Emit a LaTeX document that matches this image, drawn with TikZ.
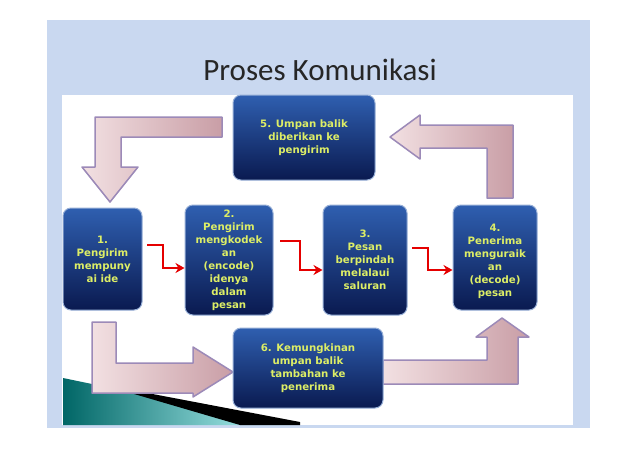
\documentclass[tikz,border=0pt]{standalone}
\usepackage{fontspec}
\setmainfont{DejaVu Sans}
\newfontfamily\titlefont{Carlito}
\usetikzlibrary{arrows.meta}
\definecolor{slidebg}{HTML}{C9D8F0}
\definecolor{boxtop}{HTML}{2F5FB0}
\definecolor{boxbot}{HTML}{0A1A50}
\definecolor{txt}{HTML}{DDEE66}
\definecolor{pinkA}{HTML}{F2E0E2}
\definecolor{pinkB}{HTML}{C99EA6}
\definecolor{pinkedge}{HTML}{9C8AB8}
\tikzset{
 stepbox/.style={draw=boxtop!50!white, line width=1pt, rounded corners=8pt, top color=boxtop, bottom color=boxbot, minimum width=#1},
 boxtext/.style={text=txt, font=\bfseries\fontsize{10.2}{13}\selectfont, align=center},
 blockarrow/.style={draw=pinkedge, line width=1.5pt, left color=pinkA, right color=pinkB, line join=round},
 redarrow/.style={draw=red!90!black, line width=2.5pt, -{Stealth[length=9pt,width=10pt]}}
}
\begin{document}
\begin{tikzpicture}[x=1pt,y=-1pt]
\useasboundingbox (0,0) rectangle (638,451);
\fill[white] (0,0) rectangle (638,451);
\fill[slidebg] (47,20) rectangle (590,428);
\fill[white] (62,95) rectangle (573,425);
\node[font=\titlefont\fontsize{31}{34}\selectfont, text=black!85] (title) at (320,70) {Proses Komunikasi};
% decoration bottom-left
\shade[left color=teal!80!black, right color=cyan!25!white] (63,378) -- (290,425) -- (63,425) -- cycle;
\fill[black] (100,384) -- (300,422) -- (300,425) -- (240,425) -- cycle;
% block arrows
\path[blockarrow] (222,117) -- (95,117) -- (95,167) -- (82,167) -- (110,202) -- (138,167) -- (121,167) -- (121,137) -- (222,137) -- cycle;
\path[blockarrow] (513,198) -- (513,125) -- (420,125) -- (420,115) -- (390,137) -- (420,159) -- (420,148) -- (487,148) -- (487,198) -- cycle;
\path[blockarrow] (92,322) -- (92,393) -- (193,393) -- (193,397) -- (233,372) -- (193,347) -- (193,363) -- (116,363) -- (116,322) -- cycle;
\path[blockarrow] (383,360) -- (487,360) -- (487,337) -- (476,337) -- (502,318) -- (529,337) -- (518,337) -- (518,384) -- (383,384) -- cycle;
% boxes
\node[stepbox=142pt, minimum height=85pt] (b5) at (304,137.5) {};
\node[boxtext] at (b5.center) {5. Umpan balik\\diberikan ke\\pengirim};
\node[stepbox=79pt, minimum height=102pt] (b1) at (102.5,259) {};
\node[boxtext] at (b1.center) {1.\\Pengirim\\mempuny\\ai ide};
\node[stepbox=88pt, minimum height=110pt] (b2) at (229,260) {};
\node[boxtext] at (b2.center) {2.\\Pengirim\\mengkodek\\an\\(encode)\\idenya\\dalam\\pesan};
\node[stepbox=84pt, minimum height=110pt] (b3) at (365,260) {};
\node[boxtext] at (b3.center) {3.\\Pesan\\berpindah\\melalaui\\saluran};
\node[stepbox=84pt, minimum height=105pt] (b4) at (495,257.5) {};
\node[boxtext] at ([yshift=-4pt]b4.center) {4.\\Penerima\\menguraik\\an\\(decode)\\pesan};
\node[stepbox=150pt, minimum height=80pt] (b6) at (308,368) {};
\node[boxtext] at (b6.center) {6. Kemungkinan\\umpan balik\\tambahan ke\\penerima};
% red arrows
\coordinate (r1a) at (147,245); \coordinate (r1b) at (163,245); \coordinate (r1c) at (163,268);
\draw[redarrow] (r1a) -- (r1b) -- (r1c) -- (b2.west |- r1c);
\coordinate (r2a) at (280,241); \coordinate (r2b) at (300,241); \coordinate (r2c) at (300,270);
\draw[redarrow] (r2a) -- (r2b) -- (r2c) -- (b3.west |- r2c);
\coordinate (r3a) at (412,248); \coordinate (r3b) at (428,248); \coordinate (r3c) at (428,270);
\draw[redarrow] (r3a) -- (r3b) -- (r3c) -- (b4.west |- r3c);
\end{tikzpicture}
\end{document}
